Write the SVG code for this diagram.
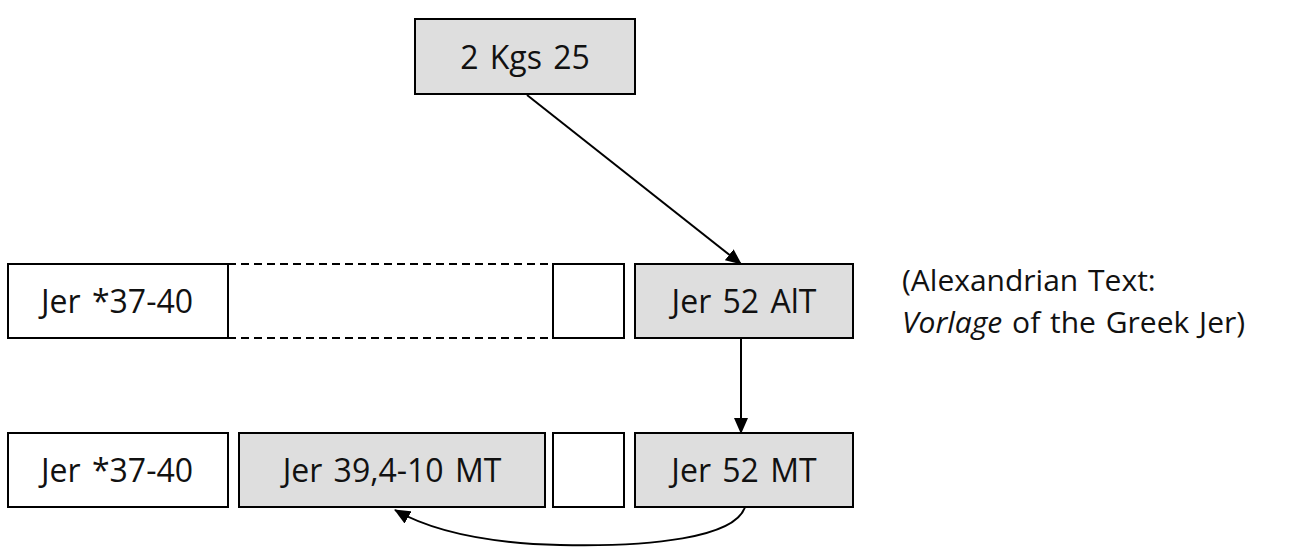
<svg xmlns="http://www.w3.org/2000/svg" width="1307" height="548" viewBox="0 0 1307 548">
<style>
.box{stroke:#000;stroke-width:2;}
.g{fill:#dedede;}
.w{fill:#fff;}
.t{font-family:"Open Sans","Liberation Sans",sans-serif;font-size:32px;fill:#111;text-anchor:middle;word-spacing:3px;}
.n{font-family:"Open Sans","Liberation Sans",sans-serif;font-size:30px;fill:#111;word-spacing:2px;}
.c{stroke:#000;stroke-width:2;fill:none;}
</style>
<defs>
<marker id="ah" markerWidth="16" markerHeight="14" refX="15" refY="7" orient="auto" markerUnits="userSpaceOnUse">
<path d="M0,0 L16,7 L0,14 Z" fill="#000"/>
</marker>
</defs>
<rect width="1307" height="548" fill="#fff"/>
<g id="kgs25"><rect class="box g" x="415" y="19" width="220" height="75"/><text class="t" x="525" y="69">2 Kgs 25</text></g>
<g id="jer3740a"><rect class="box w" x="8" y="264" width="220" height="74"/><text class="t" x="117" y="313">Jer *37-40</text></g>
<g id="gap-a"><line class="c" x1="228" y1="264" x2="553" y2="264" stroke-dasharray="8,5"/><line class="c" x1="228" y1="338" x2="553" y2="338" stroke-dasharray="8,5"/></g>
<g id="smalla"><rect class="box w" x="553" y="264" width="71" height="74"/></g>
<g id="jer52alt"><rect class="box g" x="635" y="264" width="218" height="74"/><text class="t" x="744" y="313">Jer 52 AlT</text></g>
<g id="jer3740b"><rect class="box w" x="8" y="433" width="220" height="74"/><text class="t" x="117" y="482">Jer *37-40</text></g>
<g id="jer39"><rect class="box g" x="239" y="433" width="306" height="74"/><text class="t" x="392" y="482">Jer 39,4-10 MT</text></g>
<g id="smallb"><rect class="box w" x="553" y="433" width="71" height="74"/></g>
<g id="jer52mt"><rect class="box g" x="635" y="433" width="218" height="74"/><text class="t" x="744" y="482">Jer 52 MT</text></g>
<g id="note"><text class="n" x="902" y="291">(Alexandrian Text:</text><text class="n" x="902" y="333"><tspan font-style="italic">Vorlage</tspan> of the Greek Jer)</text></g>
<g id="connectors">
<line class="c" x1="527" y1="95" x2="741" y2="264" marker-end="url(#ah)"/>
<line class="c" x1="741" y1="339" x2="741" y2="433" marker-end="url(#ah)"/>
<path class="c" d="M745,507 C735,538 650,547 560,545 C480,543 430,530 395,510" marker-end="url(#ah)"/>
</g>
</svg>
